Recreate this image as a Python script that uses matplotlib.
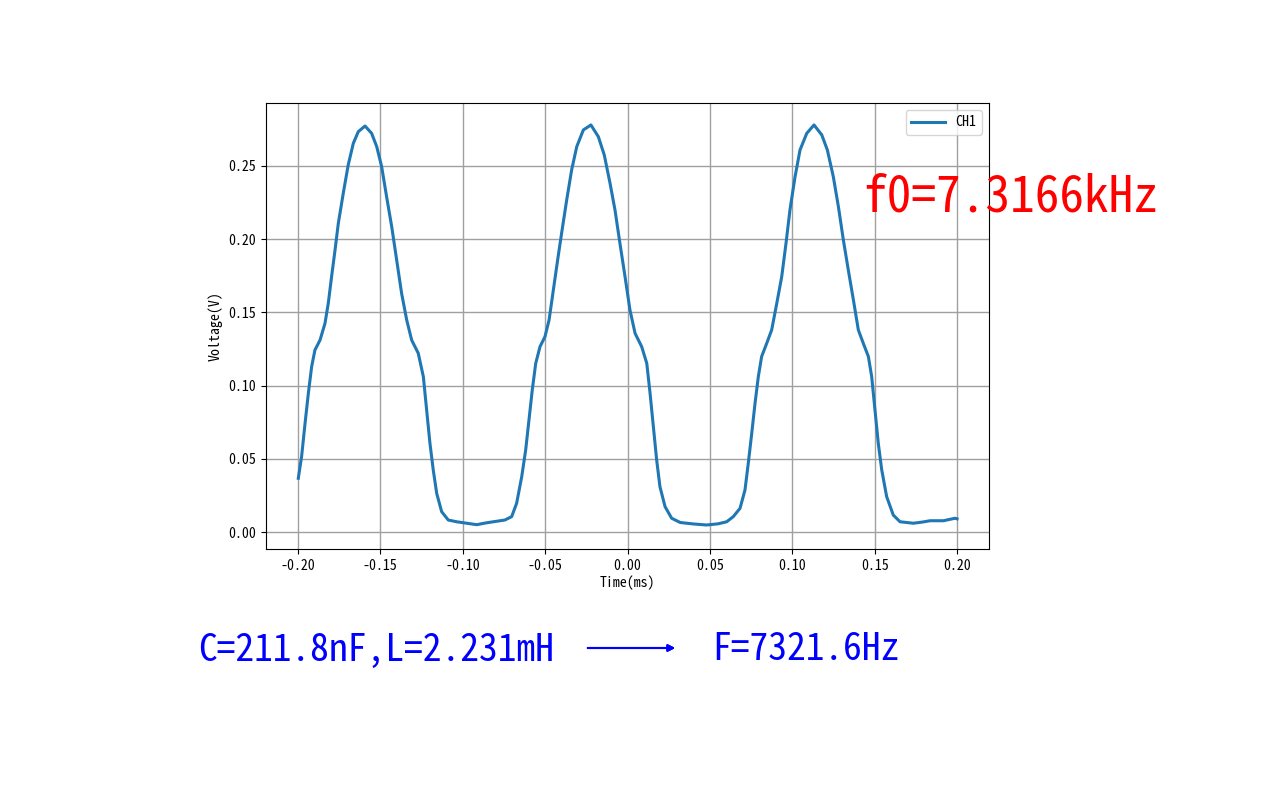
import matplotlib.pyplot as plt

plt.rcParams['font.family'] = ['Noto Sans Mono CJK SC', 'Noto Sans CJK SC', 'DejaVu Sans']
plt.rcParams['axes.unicode_minus'] = False

# waveform (time in ms, voltage in V)
time_ms = [-0.1998, -0.1978, -0.1957, -0.1937, -0.1917, -0.1897, -0.1866, -0.1836,
           -0.1816, -0.1796, -0.1775, -0.1755, -0.1725, -0.1695, -0.1664, -0.1634,
           -0.1593, -0.1553, -0.1522, -0.1492, -0.1462, -0.1431, -0.1401, -0.1371,
           -0.1340, -0.1310, -0.1270, -0.1239, -0.1219, -0.1199, -0.1179, -0.1158,
           -0.1128, -0.1088, -0.1037, -0.0976, -0.0915, -0.0860, -0.0814, -0.0744,
           -0.0703, -0.0673, -0.0642, -0.0618, -0.0598, -0.0578, -0.0557, -0.0531,
           -0.0501, -0.0476, -0.0450, -0.0424, -0.0400, -0.0369, -0.0339, -0.0308,
           -0.0268, -0.0222, -0.0177, -0.0141, -0.0106, -0.0076, -0.0046, -0.0015,
           0.0015, 0.0046, 0.0086, 0.0117, 0.0137, 0.0157, 0.0177, 0.0197,
           0.0228, 0.0268, 0.0320, 0.0400, 0.0480, 0.0550, 0.0602, 0.0642,
           0.0683, 0.0713, 0.0733, 0.0754, 0.0774, 0.0794, 0.0814, 0.0845,
           0.0875, 0.0906, 0.0936, 0.0962, 0.0986, 0.1017, 0.1047, 0.1088,
           0.1132, 0.1179, 0.1213, 0.1249, 0.1280, 0.1310, 0.1340, 0.1371,
           0.1401, 0.1431, 0.1462, 0.1482, 0.1502, 0.1522, 0.1543, 0.1573,
           0.1613, 0.1654, 0.1735, 0.1790, 0.1836, 0.1917, 0.1988, 0.2000]
voltage = [0.0367, 0.0515, 0.0742, 0.0947, 0.1129, 0.1243, 0.1311, 0.1425,
           0.1562, 0.1744, 0.1926, 0.2109, 0.2314, 0.2507, 0.2655, 0.2734,
           0.2773, 0.2723, 0.2632, 0.2495, 0.2290, 0.2085, 0.1858, 0.1630,
           0.1448, 0.1311, 0.1221, 0.1061, 0.0833, 0.0606, 0.0424, 0.0264,
           0.0139, 0.0082, 0.0070, 0.0060, 0.0050, 0.0062, 0.0070, 0.0082,
           0.0105, 0.0196, 0.0378, 0.0560, 0.0765, 0.0970, 0.1152, 0.1266,
           0.1334, 0.1448, 0.1653, 0.1858, 0.2040, 0.2268, 0.2473, 0.2632,
           0.2746, 0.2780, 0.2700, 0.2575, 0.2382, 0.2200, 0.1972, 0.1744,
           0.1516, 0.1357, 0.1266, 0.1152, 0.0947, 0.0719, 0.0492, 0.0309,
           0.0173, 0.0094, 0.0065, 0.0055, 0.0048, 0.0056, 0.0070, 0.0105,
           0.0162, 0.0287, 0.0469, 0.0674, 0.0879, 0.1061, 0.1198, 0.1289,
           0.1380, 0.1562, 0.1744, 0.1972, 0.2200, 0.2427, 0.2609, 0.2723,
           0.2780, 0.2712, 0.2609, 0.2427, 0.2222, 0.1995, 0.1790, 0.1585,
           0.1380, 0.1289, 0.1198, 0.1061, 0.0833, 0.0606, 0.0424, 0.0241,
           0.0116, 0.0070, 0.0060, 0.0068, 0.0077, 0.0077, 0.0094, 0.0090]

x_ticks = [-0.20, -0.15, -0.10, -0.05, 0.00, 0.05, 0.10, 0.15, 0.20]
y_ticks = [0.00, 0.05, 0.10, 0.15, 0.20, 0.25]

fig = plt.figure(figsize=(12.8, 8), dpi=100)
ax = fig.add_axes([266 / 1280, 1 - 549 / 800, 723 / 1280, 446 / 800])

ax.plot(time_ms, voltage, color='#1f77b4', lw=2.2, label='CH1')
ax.set_xlim(-0.2194, 0.2194)
ax.set_ylim(-0.0116, 0.293)
ax.set_xticks(x_ticks)
ax.set_xticklabels([f"{t:.2f}" for t in x_ticks])
ax.set_yticks(y_ticks)
ax.set_yticklabels([f"{v:.2f}" for v in y_ticks])
ax.tick_params(labelsize=10)
ax.grid(True, color='#a0a0a0', lw=1)
ax.set_axisbelow(True)
ax.set_xlabel("Time(ms)", fontsize=10, labelpad=2)
ax.set_ylabel("Voltage(V)", fontsize=10)
ax.legend(loc='upper right', fontsize=10, handlelength=2.4)

fig.text(862 / 1280, 1 - 198 / 800, "f0=7.3166kHz", color='red', fontsize=35.5, va='center')
fig.text(198 / 1280, 1 - 650 / 800, "C=211.8nF,L=2.231mH", color='blue', fontsize=27, va='center')
fig.text(712 / 1280, 1 - 650 / 800, "F=7321.6Hz", color='blue', fontsize=27, va='center')
fig.add_artist(plt.annotate("", xy=(678 / 1280, 1 - 648 / 800), xytext=(585 / 1280, 1 - 648 / 800),
                            xycoords='figure fraction', textcoords='figure fraction',
                            arrowprops=dict(arrowstyle='-|>', color='blue', lw=1.5, mutation_scale=10)))

plt.savefig("out.png", dpi=100)
